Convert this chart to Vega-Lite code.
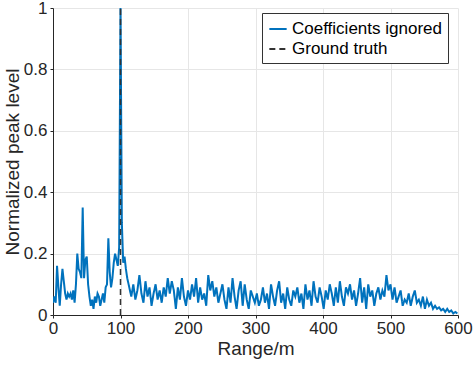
{
  "$schema": "https://vega.github.io/schema/vega-lite/v6.json",
  "width": 405,
  "height": 307,
  "autosize": {"type": "none"},
  "padding": {"left": 53, "top": 8, "right": 16, "bottom": 53},
  "background": "white",
  "config": {
    "font": "Liberation Sans",
    "view": {"stroke": null},
    "axis": {
      "labelFont": "Liberation Sans",
      "titleFont": "Liberation Sans",
      "labelFontSize": 17,
      "titleFontSize": 19,
      "labelColor": "#262626",
      "titleColor": "#262626",
      "titleFontWeight": "normal",
      "gridColor": "#e6e6e6",
      "gridOpacity": 1,
      "domainColor": "#262626",
      "tickColor": "#262626",
      "tickSize": 3,
      "labelFlush": false
    }
  },
  "datasets": {
    "main": [
      {"x":0,"y":0.04},{"x":2,"y":0.06},{"x":4,"y":0.04},{"x":6,"y":0.16},{"x":8,"y":0.09},{"x":10,"y":0.03},{"x":12,"y":0.10},{"x":14,"y":0.15},{"x":16,"y":0.11},{"x":18,"y":0.07},{"x":20,"y":0.05},{"x":22,"y":0.07},{"x":24,"y":0.06},{"x":26,"y":0.07},{"x":28,"y":0.05},{"x":30,"y":0.08},{"x":32,"y":0.04},{"x":34,"y":0.10},{"x":36,"y":0.20},{"x":38,"y":0.15},{"x":40,"y":0.14},{"x":42,"y":0.12},{"x":44,"y":0.35},{"x":46,"y":0.12},{"x":48,"y":0.18},{"x":50,"y":0.19},{"x":52,"y":0.10},{"x":54,"y":0.06},{"x":56,"y":0.03},{"x":58,"y":0.05},{"x":60,"y":0.02},{"x":62,"y":0.06},{"x":64,"y":0.04},{"x":66,"y":0.07},{"x":68,"y":0.06},{"x":70,"y":0.03},{"x":72,"y":0.05},{"x":74,"y":0.07},{"x":76,"y":0.04},{"x":78,"y":0.09},{"x":80,"y":0.10},{"x":82,"y":0.25},{"x":84,"y":0.14},{"x":86,"y":0.09},{"x":88,"y":0.12},{"x":90,"y":0.17},{"x":92,"y":0.20},{"x":94,"y":0.18},{"x":96,"y":0.16},{"x":98,"y":0.22},{"x":100,"y":1.0},{"x":102,"y":0.30},{"x":104,"y":0.17},{"x":106,"y":0.19},{"x":108,"y":0.15},
      {"x":110,"y":0.12},{"x":113,"y":0.09},{"x":116,"y":0.06},{"x":119,"y":0.10},{"x":122,"y":0.05},{"x":125,"y":0.08},{"x":128,"y":0.13},{"x":131,"y":0.07},{"x":134,"y":0.04},{"x":137,"y":0.11},{"x":140,"y":0.06},{"x":143,"y":0.09},{"x":146,"y":0.03},{"x":149,"y":0.07},{"x":152,"y":0.10},{"x":155,"y":0.05},{"x":158,"y":0.08},{"x":161,"y":0.04},{"x":164,"y":0.09},{"x":167,"y":0.06},{"x":170,"y":0.12},{"x":173,"y":0.07},{"x":176,"y":0.11},{"x":179,"y":0.08},{"x":182,"y":0.02},{"x":185,"y":0.09},{"x":188,"y":0.05},{"x":191,"y":0.12},{"x":194,"y":0.06},{"x":197,"y":0.03},{"x":200,"y":0.08},
      {"x":203,"y":0.05},{"x":206,"y":0.10},{"x":209,"y":0.06},{"x":212,"y":0.12},{"x":215,"y":0.04},{"x":218,"y":0.09},{"x":221,"y":0.05},{"x":224,"y":0.07},{"x":227,"y":0.03},{"x":230,"y":0.13},{"x":233,"y":0.08},{"x":236,"y":0.11},{"x":239,"y":0.06},{"x":242,"y":0.09},{"x":245,"y":0.04},{"x":248,"y":0.07},{"x":251,"y":0.10},{"x":254,"y":0.05},{"x":257,"y":0.02},{"x":260,"y":0.09},{"x":263,"y":0.04},{"x":266,"y":0.12},{"x":269,"y":0.06},{"x":272,"y":0.02},{"x":275,"y":0.08},{"x":278,"y":0.11},{"x":281,"y":0.03},{"x":284,"y":0.10},{"x":287,"y":0.05},{"x":290,"y":0.02},{"x":293,"y":0.08},{"x":296,"y":0.06},{"x":299,"y":0.04},
      {"x":302,"y":0.07},{"x":305,"y":0.03},{"x":308,"y":0.05},{"x":311,"y":0.09},{"x":314,"y":0.04},{"x":317,"y":0.07},{"x":320,"y":0.02},{"x":323,"y":0.10},{"x":326,"y":0.06},{"x":329,"y":0.03},{"x":332,"y":0.08},{"x":335,"y":0.11},{"x":338,"y":0.04},{"x":341,"y":0.07},{"x":344,"y":0.02},{"x":347,"y":0.09},{"x":350,"y":0.05},{"x":353,"y":0.03},{"x":356,"y":0.08},{"x":359,"y":0.06},{"x":362,"y":0.09},{"x":365,"y":0.04},{"x":368,"y":0.07},{"x":371,"y":0.02},{"x":374,"y":0.10},{"x":377,"y":0.05},{"x":380,"y":0.08},{"x":383,"y":0.03},{"x":386,"y":0.11},{"x":389,"y":0.06},{"x":392,"y":0.04},{"x":395,"y":0.09},{"x":398,"y":0.06},
      {"x":401,"y":0.02},{"x":404,"y":0.08},{"x":407,"y":0.05},{"x":410,"y":0.10},{"x":413,"y":0.07},{"x":416,"y":0.03},{"x":419,"y":0.09},{"x":422,"y":0.04},{"x":425,"y":0.11},{"x":428,"y":0.06},{"x":431,"y":0.03},{"x":434,"y":0.09},{"x":437,"y":0.07},{"x":440,"y":0.10},{"x":443,"y":0.05},{"x":446,"y":0.08},{"x":449,"y":0.03},{"x":452,"y":0.07},{"x":455,"y":0.12},{"x":458,"y":0.04},{"x":461,"y":0.09},{"x":464,"y":0.02},{"x":467,"y":0.10},{"x":470,"y":0.06},{"x":473,"y":0.08},{"x":476,"y":0.03},{"x":479,"y":0.07},{"x":482,"y":0.09},{"x":485,"y":0.05},{"x":488,"y":0.08},{"x":491,"y":0.06},{"x":494,"y":0.13},{"x":497,"y":0.08},{"x":500,"y":0.10},
      {"x":503,"y":0.05},{"x":506,"y":0.09},{"x":509,"y":0.04},{"x":512,"y":0.06},{"x":515,"y":0.08},{"x":518,"y":0.03},{"x":521,"y":0.05},{"x":524,"y":0.04},{"x":527,"y":0.07},{"x":530,"y":0.03},{"x":533,"y":0.06},{"x":536,"y":0.08},{"x":539,"y":0.04},{"x":542,"y":0.05},{"x":545,"y":0.03},{"x":548,"y":0.06},{"x":551,"y":0.02},{"x":554,"y":0.05},{"x":557,"y":0.03},{"x":560,"y":0.04},{"x":563,"y":0.02},{"x":566,"y":0.03},{"x":569,"y":0.02},{"x":572,"y":0.025},{"x":575,"y":0.015},{"x":578,"y":0.02},{"x":581,"y":0.01},{"x":584,"y":0.02},{"x":587,"y":0.01},{"x":590,"y":0.015},{"x":593,"y":0.005},{"x":596,"y":0.01},{"x":599,"y":0.005}
    ],
    "truth": [
      {"x":100,"y":0},{"x":100,"y":1}
    ]
  },
  "layer": [
    {
      "data": {"name": "main"},
      "transform": [{"calculate": "'Coefficients ignored'", "as": "series"}],
      "mark": {"type": "line", "strokeWidth": 2, "clip": true},
      "encoding": {
        "x": {"field": "x", "type": "quantitative", "scale": {"domain": [0, 600], "nice": false},
          "axis": {"title": "Range/m", "values": [0,100,200,300,400,500,600], "titlePadding": 3, "labelPadding": 2}},
        "y": {"field": "y", "type": "quantitative", "scale": {"domain": [0, 1], "nice": false},
          "axis": {"title": "Normalized peak level", "values": [0,0.2,0.4,0.6,0.8,1], "format": "~g", "titlePadding": 1, "labelPadding": 3}},
        "color": {"field": "series", "type": "nominal",
          "scale": {"domain": ["Coefficients ignored", "Ground truth"], "range": ["#0072BD", "#333333"]},
          "legend": {"title": null, "orient": "none", "legendX": 209, "legendY": 5,
            "strokeColor": "#333333", "fillColor": "white", "padding": 6,
            "symbolType": "stroke", "symbolSize": 300, "symbolStrokeWidth": 2,
            "labelFontSize": 17, "labelFont": "Liberation Sans", "labelColor": "#000000", "rowPadding": 2}},
        "strokeDash": {"field": "series", "type": "nominal",
          "scale": {"domain": ["Coefficients ignored", "Ground truth"], "range": [[1,0],[6,4]]},
          "legend": {"title": null, "orient": "none", "legendX": 209, "legendY": 5,
            "strokeColor": "#333333", "fillColor": "white", "padding": 6,
            "symbolType": "stroke", "symbolSize": 300, "symbolStrokeWidth": 2,
            "labelFontSize": 17, "labelFont": "Liberation Sans", "labelColor": "#000000", "rowPadding": 2}}
      }
    },
    {
      "data": {"name": "truth"},
      "transform": [{"calculate": "'Ground truth'", "as": "series"}],
      "mark": {"type": "line", "strokeWidth": 1.5},
      "encoding": {
        "x": {"field": "x", "type": "quantitative"},
        "y": {"field": "y", "type": "quantitative"},
        "color": {"field": "series", "type": "nominal"},
        "strokeDash": {"field": "series", "type": "nominal"}
      }
    }
  ]
}
